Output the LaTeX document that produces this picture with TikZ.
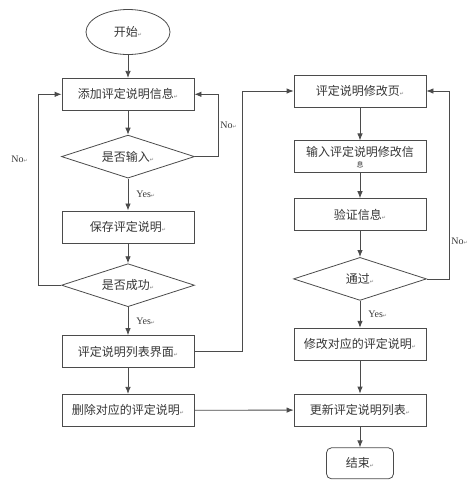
\documentclass[tikz,border=0pt]{standalone}
\usepackage{fontspec}
\setmainfont{Noto Sans CJK SC}
\newfontfamily\latinfont{Liberation Serif}
\newfontfamily\symfont{DejaVu Sans}
\usetikzlibrary{arrows.meta,positioning,shapes.geometric}
\definecolor{Trazo}{RGB}{75,75,75}
\definecolor{Texto}{RGB}{55,55,55}
\newcommand{\pmark}{{\symfont\fontsize{5}{5}\selectfont\color{gray}↵}}
\tikzset{
  procbox/.style={draw=Trazo, line width=0.8pt, fill=white, align=center,
    text width=#1, minimum height=32pt, font=\fontsize{12}{14}\selectfont,
    text=Texto, inner xsep=3pt, inner ysep=2pt},
  procbox/.default=126pt,
  decision/.style={draw=Trazo, line width=0.8pt, fill=white, diamond, aspect=3.1,
    minimum width=133pt, minimum height=43pt, inner sep=0pt,
    font=\fontsize{12}{14}\selectfont, text=Texto},
  startnode/.style={draw=Trazo, line width=0.8pt, ellipse, minimum width=84pt,
    minimum height=45pt, font=\fontsize{12}{14}\selectfont, text=Texto},
  endnode/.style={draw=Trazo, line width=0.8pt, rounded corners=5pt, minimum width=67pt,
    minimum height=31pt, font=\fontsize{12}{14}\selectfont, text=Texto},
  flowarr/.style={-{Latex[length=7pt, width=5.5pt]}, line width=0.8pt, Trazo},
  lbl/.style={font=\latinfont\fontsize{10}{10}\selectfont, text=Texto, inner sep=2pt},
}
\begin{document}
\begin{tikzpicture}[x=1pt, y=-1pt]
  \useasboundingbox (0,0) rectangle (474,483);
  % columna izquierda
  \node[startnode] (start) at (128,32) {开始\pmark};
  \node[procbox, below=23pt of start] (add) {添加评定说明信息\pmark};
  \node[decision, below=24pt of add] (input) {是否输入\pmark};
  \node[procbox, below=32pt of input] (save) {保存评定说明\pmark};
  \node[decision, below=20pt of save] (ok) {是否成功\pmark};
  \node[procbox, below=28pt of ok] (list) {评定说明列表界面\pmark};
  \node[procbox, below=26pt of list] (del) {删除对应的评定说明\pmark};
  % columna derecha
  \node[procbox] (edit) at (360,91) {评定说明修改页\pmark};
  \node[procbox, below=33pt of edit] (enter) {输入评定说明修改信\\[-3pt]{\scriptsize 息}};
  \node[procbox, below=25pt of enter] (verify) {验证信息\pmark};
  \node[decision, below=26pt of verify] (pass) {通过\pmark};
  \node[procbox, below=27pt of pass] (modify) {修改对应的评定说明\pmark};
  \node[procbox, below=33pt of modify] (update) {更新评定说明列表\pmark};
  \node[endnode, below=21pt of update] (end) {结束\pmark};
  % conectores
  \draw[flowarr] (start) -- (add);
  \draw[flowarr] (add) -- (input);
  \draw[flowarr] (input) -- node[lbl, right=6pt] {Yes\pmark} (save);
  \draw[flowarr] (input.east) -- ++(23,0) |- node[lbl, pos=0.25, right] {No\pmark} (add.east);
  \draw[flowarr] (save) -- (ok);
  \draw[flowarr] (ok.west) -- ++(-23,0) |- node[lbl, pos=0.33, left=8pt] {No\pmark} (add.west);
  \draw[flowarr] (ok) -- node[lbl, right=6pt] {Yes\pmark} (list);
  \draw[flowarr] (list) -- (del);
  \draw[flowarr] (list.east) -- ++(48,0) |- (edit.west);
  \draw[flowarr] (del) -- (update);
  \draw[flowarr] (edit) -- (enter);
  \draw[flowarr] (enter) -- (verify);
  \draw[flowarr] (verify) -- (pass);
  \draw[flowarr] (pass) -- node[lbl, right=6pt] {Yes\pmark} (modify);
  \draw[flowarr] (pass.east) -- ++(22,0) |- node[lbl, pos=0.1, right] {No\pmark} (edit.east);
  \draw[flowarr] (modify) -- (update);
  \draw[flowarr] (update) -- (end);
\end{tikzpicture}
\end{document}
